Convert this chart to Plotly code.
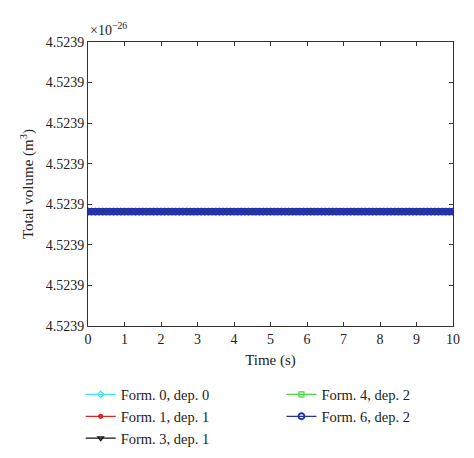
import plotly.graph_objects as go

# time samples (s) and total volume (units of 1e-26 m^3), constant for all formulations
time_s = [round(0.1 * i, 1) for i in range(101)]
volume_value = 4.5238882
volume = [volume_value] * len(time_s)

series_names = ["Form. 0, dep. 0", "Form. 1, dep. 1", "Form. 3, dep. 1",
                "Form. 4, dep. 2", "Form. 6, dep. 2"]
series_colors = ["#3fe6e6", "#e02424", "#111111", "#44d444", "#2233aa"]
series_symbols = ["diamond-open", "circle", "triangle-down-open", "square-open", "circle-open"]
series_sizes = [5, 4, 5, 5, 6]
legend_ids = ["legend", "legend", "legend", "legend2", "legend2"]

y_ticks = [4.52386, 4.52387, 4.52388, 4.52389, 4.52390, 4.52391, 4.52392, 4.52393]
y_ticktext = ["4.5239"] * len(y_ticks)
x_ticks = list(range(0, 11))

FONT = "Liberation Serif"

fig = go.Figure()
for name, col, sym, sz, lg in zip(series_names, series_colors, series_symbols,
                                  series_sizes, legend_ids):
    is_top = name.startswith("Form. 6")
    fig.add_trace(go.Scatter(
        x=time_s, y=volume, mode="lines+markers", name=name,
        line=dict(color=col, width=1.2),
        marker=dict(symbol=sym, size=sz, color=col,
                    line=dict(color=col, width=1.9 if is_top else 1.2)),
        legend=lg,
    ))

axis_common = dict(
    showgrid=False, zeroline=False, showline=True, linecolor="#333333", linewidth=1,
    mirror="ticks", ticks="inside", ticklen=4, tickcolor="#333333",
    tickfont=dict(family=FONT, size=14, color="#222222"),
)

fig.update_layout(
    width=474, height=458,
    paper_bgcolor="white", plot_bgcolor="white",
    font=dict(family=FONT, size=14, color="#222222"),
    margin=dict(l=80, r=29, t=34, b=133),
    xaxis=dict(range=[0, 10], tickvals=x_ticks,
               title=dict(text="Time (s)", font=dict(family=FONT, size=15), standoff=8),
               **axis_common),
    yaxis=dict(range=[y_ticks[0], y_ticks[-1]], tickvals=y_ticks, ticktext=y_ticktext,
               title=dict(text="Total volume (m<sup>3</sup>)", font=dict(family=FONT, size=15),
                          standoff=8),
               **axis_common),
    legend=dict(x=-0.02, y=-0.185, xanchor="left", yanchor="top", orientation="v",
                bgcolor="rgba(0,0,0,0)", font=dict(family=FONT, size=14.5),
                tracegroupgap=0, itemwidth=30),
    legend2=dict(x=0.53, y=-0.185, xanchor="left", yanchor="top", orientation="v",
                 bgcolor="rgba(0,0,0,0)", font=dict(family=FONT, size=14.5),
                 tracegroupgap=0, itemwidth=30),
    annotations=[dict(text="×10<sup>−26</sup>", x=0, y=1, xref="paper", yref="paper",
                      xanchor="left", yanchor="bottom", showarrow=False, yshift=2,
                      font=dict(family=FONT, size=14, color="#222222"))],
)

fig.write_html("out.html")
